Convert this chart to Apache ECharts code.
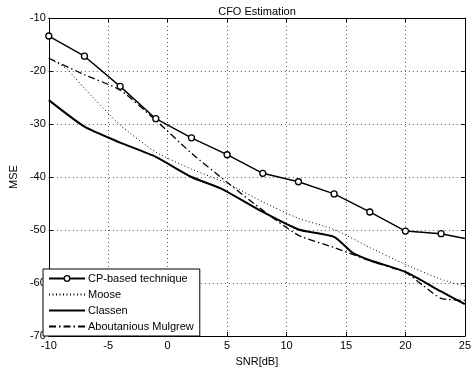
<!DOCTYPE html>
<html><head><meta charset="utf-8">
<script src="https://cdn.jsdelivr.net/npm/echarts@6/dist/echarts.min.js"></script>
<style>html,body{margin:0;padding:0;background:#fff}#c{width:474px;height:372px}</style>
</head><body><div id="c"></div>
<script>
const cpX = [-10, -7, -4, -1, 2, 5, 8, 11, 14, 17, 20, 23, 25];
const cpY = [-13.4, -17.2, -22.9, -29.0, -32.6, -35.8, -39.3, -40.9, -43.2, -46.6, -50.2, -50.7, -51.6];
const mooseX = [-10, -8.5, -7, -4, -1, 2, 5, 8, 11, 14, 17, 20, 23, 25];
const mooseY = [-17.6, -19.6, -23.3, -30.2, -35.3, -38.5, -41.2, -44.7, -47.8, -49.9, -53.3, -56.5, -59.3, -60.6];
const classenX = [-10, -7, -4, -1, 2, 4.5, 8, 11, 14, 15.5, 17, 20, 23, 25];
const classenY = [-25.5, -30.5, -33.5, -36.2, -40.0, -42.2, -46.6, -49.9, -51.3, -54.2, -55.7, -57.9, -61.6, -64.0];
const amX = [-10, -7, -4, -1, 2, 5, 8, 11, 14, 17, 20, 21.5, 23, 25];
const amY = [-17.6, -20.7, -23.6, -29.3, -35.5, -41.0, -46.3, -51.0, -53.3, -55.8, -58.0, -60.5, -62.9, -63.3];
const xTicks = [-10, -5, 0, 5, 10, 15, 20, 25];
const yTicks = [-70, -60, -50, -40, -30, -20, -10];

const pairs = (xs, ys) => xs.map((x, i) => [x, ys[i]]);
const cpData = cpX.map((x, i) => (x === 25 ? { value: [x, cpY[i]], symbol: 'none' } : [x, cpY[i]]));

const font = 'Liberation Sans, Arial, sans-serif';
const chart = echarts.init(document.getElementById('c'), null, { renderer: 'canvas' });
const axisCommon = {
  axisLine: { show: true, onZero: false, lineStyle: { color: '#000', width: 1 } },
  axisTick: { show: true, inside: true, length: 4, lineStyle: { color: '#000' } },
};
chart.setOption({
  animation: false,
  backgroundColor: '#fff',
  title: {
    text: 'CFO Estimation', left: 252, top: 1, textAlign: 'center',
    textStyle: { fontFamily: font, fontSize: 11, fontWeight: 'normal', color: '#000' }
  },
  grid: { left: 36, right: 6, top: 18, bottom: 30, show: false },
  legend: {
    orient: 'vertical', left: 43, top: 269,
    backgroundColor: '#fff', borderColor: '#000', borderWidth: 1,
    padding: [4, 6, 4, 5], itemGap: 5, itemWidth: 36, itemHeight: 7,
    textStyle: { fontFamily: font, fontSize: 11, color: '#000', padding: [0, 0, 0, -2] },
    data: [
      { name: 'CP-based technique', itemStyle: { color: '#fff', borderColor: '#000', borderWidth: 1.3 } },
      { name: 'Moose', itemStyle: { opacity: 0 } },
      { name: 'Classen', itemStyle: { opacity: 0 } },
      { name: 'Aboutanious Mulgrew', itemStyle: { opacity: 0 } }
    ]
  },
  xAxis: [{
    type: 'value', min: -10, max: 25, interval: 5, ...axisCommon,
    name: 'SNR[dB]', nameLocation: 'middle', nameGap: 20,
    nameTextStyle: { fontFamily: font, fontSize: 11, color: '#000' },
    axisLabel: { fontFamily: font, fontSize: 11, color: '#000', margin: 4,
      formatter: v => xTicks.includes(v) ? String(v) : '' },
    splitLine: { show: true, lineStyle: { color: '#555', type: [1, 3], width: 1 } }
  }, {
    type: 'value', position: 'top', min: -10, max: 25, interval: 5, ...axisCommon,
    axisLabel: { show: false }, splitLine: { show: false }
  }],
  yAxis: [{
    type: 'value', min: -70, max: -10, interval: 10, ...axisCommon,
    name: 'MSE', nameLocation: 'middle', nameGap: 29, nameRotate: 90,
    nameTextStyle: { fontFamily: font, fontSize: 11, color: '#000' },
    axisLabel: { fontFamily: font, fontSize: 11, color: '#000', margin: 3,
      formatter: v => yTicks.includes(v) ? String(v) : '' },
    splitLine: { show: true, lineStyle: { color: '#555', type: [1, 3], width: 1 } }
  }, {
    type: 'value', position: 'right', min: -70, max: -10, interval: 10, ...axisCommon,
    axisLabel: { show: false }, splitLine: { show: false }
  }],
  series: [
    { name: 'CP-based technique', type: 'line', data: cpData, symbol: 'circle', symbolSize: 6,
      itemStyle: { color: '#fff', borderColor: '#000', borderWidth: 1.3 },
      lineStyle: { color: '#000', width: 1.4 }, z: 5 },
    { name: 'Moose', type: 'line', data: pairs(mooseX, mooseY), symbol: 'none', smooth: 0.2,
      itemStyle: { color: '#000' }, lineStyle: { color: '#000', width: 1, type: [1, 2.5] } },
    { name: 'Classen', type: 'line', data: pairs(classenX, classenY), symbol: 'none', smooth: 0.2,
      itemStyle: { color: '#000' }, lineStyle: { color: '#000', width: 2 } },
    { name: 'Aboutanious Mulgrew', type: 'line', data: pairs(amX, amY), symbol: 'none', smooth: 0.2,
      itemStyle: { color: '#000' }, lineStyle: { color: '#000', width: 1.3, type: [7, 3, 1.5, 3] } }
  ]
});
</script></body></html>
